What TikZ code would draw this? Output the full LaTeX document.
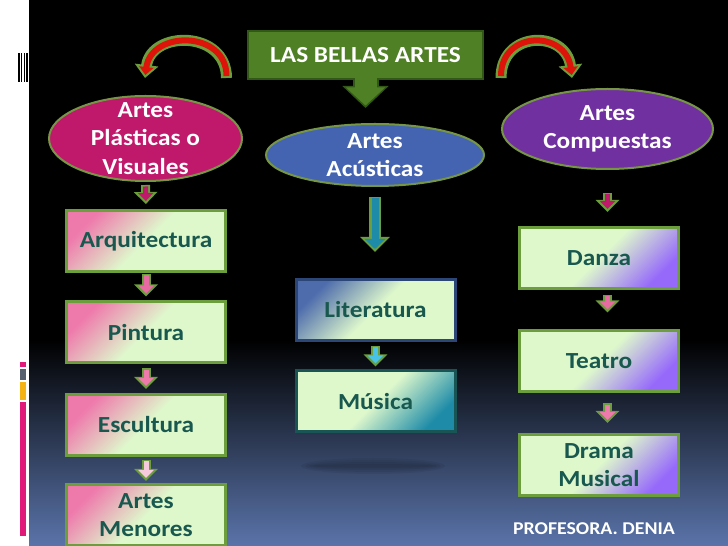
\documentclass[tikz,border=0pt]{standalone}
\usepackage{fontspec}
\setmainfont{Carlito}[FakeStretch=1.1]
\usetikzlibrary{shapes.geometric,arrows.meta}

\definecolor{fondoazul}{RGB}{90,116,170}
\definecolor{verdeborde}{RGB}{108,158,62}
\definecolor{verdeoliva}{RGB}{118,150,70}
\definecolor{verdetitulo}{RGB}{80,128,38}
\definecolor{verdeoscuro}{RGB}{50,88,22}
\definecolor{verdeclaro}{RGB}{222,248,204}
\definecolor{rosa}{RGB}{238,122,172}
\definecolor{ellrosa}{RGB}{192,24,106}
\definecolor{ellazul}{RGB}{68,100,178}
\definecolor{ellmorado}{RGB}{112,48,160}
\definecolor{textocaja}{RGB}{24,88,78}
\definecolor{lila}{RGB}{150,105,250}
\definecolor{azulcaja}{RGB}{78,108,172}
\definecolor{bordeazul}{RGB}{45,70,120}
\definecolor{turquesa}{RGB}{30,140,168}
\definecolor{celeste}{RGB}{70,195,230}
\definecolor{bordeturq}{RGB}{25,85,85}
\definecolor{rojo}{RGB}{222,20,10}
\definecolor{barrarosa}{RGB}{225,25,120}
\definecolor{barragris}{RGB}{85,95,110}
\definecolor{barranaranja}{RGB}{245,180,20}

\tikzset{
  elipse/.style={ellipse, draw=verdeoliva, line width=2pt},
  textoel/.style={text=white, font=\bfseries\fontsize{23}{28.5}\selectfont, align=center},
  caja/.style={rectangle, draw=verdeborde, line width=3pt, minimum width=159pt,
    minimum height=61pt, text=textocaja, align=center,
    font=\bfseries\fontsize{23}{28.5}\selectfont},
  cajarosa/.style={caja, top color=rosa, bottom color=verdeclaro, middle color=verdeclaro, shading angle=45},
  cajalila/.style={caja, top color=verdeclaro, bottom color=lila, middle color=verdeclaro, shading angle=45},
  flechaborde/.style={draw=verdeborde, line width=9pt, -{Triangle[width=23pt,length=12pt]}},
  flechacolor/.style={draw=#1, line width=5pt, -{Triangle[width=15pt,length=8pt]}},
  curvaborde/.style={draw=verdeborde, line width=11pt, -{Triangle[width=23pt,length=13pt]}},
  curvaroja/.style={draw=rojo, line width=6pt, shorten <=2pt, shorten >=3pt, -{Triangle[width=14pt,length=8pt]}},
}

\newcommand\flechita[5]{%
  \draw[flechaborde, shorten <=#4, shorten >=#5] (#1) -- (#2);
  \draw[flechacolor=#3, shorten <=#4+1.5pt, shorten >=#5+3pt] (#1) -- (#2);}

\begin{document}
\begin{tikzpicture}[x=1pt, y=1pt]

  %% fondo
  \useasboundingbox (0,0) rectangle (728,546);
  \fill[white] (0,0) rectangle (728,546);
  \fill[black] (29,206) rectangle (728,546);
  \shade[top color=black, bottom color=fondoazul] (29,0) rectangle (728,206.5);

  %% barras de la izquierda
  \foreach \a/\b in {17.5/19.5, 20.5/22, 23.5/24.5, 26/28}
    \fill[black] (\a,464) rectangle (\b,493);
  \fill[barrarosa] (20,179) rectangle (26,184);
  \fill[barragris] (20,166) rectangle (26,177);
  \fill[barranaranja] (20,146) rectangle (26,164);
  \fill[barrarosa] (20,10) rectangle (26,144);

  %% titulo
  \node[rectangle, fill=verdetitulo, draw=verdeoscuro, line width=2pt, minimum width=235pt,
    minimum height=48pt, text=white, font=\bfseries\fontsize{23}{28}\selectfont]
    (titulo) at (365.5,491) {LAS BELLAS ARTES};

  %% elipses
  \node[elipse, fill=ellrosa, minimum width=193pt, minimum height=85pt] (ellA) at (145.5,407.5) {};
  \node[elipse, fill=ellazul, minimum width=218pt, minimum height=62pt] (ellB) at (375,391) {};
  \node[elipse, fill=ellmorado, minimum width=211pt, minimum height=80pt] (ellC) at (607.5,417) {};
  \node[textoel] (ellAt) at (ellA) {Artes\\Plásticas o\\Visuales};
  \node[textoel] (ellBt) at (ellB) {Artes\\Acústicas};
  \node[textoel] (ellCt) at (ellC) {Artes\\Compuestas};

  %% flecha del titulo
  \draw[draw=verdeoscuro, line width=26pt, -{Triangle[width=45pt,length=22pt]}, shorten >=15pt]
    (titulo.south) -- (titulo.south |- ellB.north);
  \draw[draw=verdetitulo, line width=22pt, -{Triangle[width=38pt,length=18pt]}, shorten >=17.5pt]
    ([yshift=2pt]titulo.south) -- (titulo.south |- ellB.north);

  %% flechas curvas
  \coordinate (curvaIa) at (226.5,468);
  \coordinate (curvaIb) at (145,468);
  \coordinate (curvaDa) at (501,468);
  \coordinate (curvaDb) at (572,468);
  \draw[curvaborde] (curvaIa) .. controls +(0,48) and +(6,48) .. (curvaIb);
  \draw[curvaroja] (curvaIa) .. controls +(0,48) and +(6,48) .. (curvaIb);
  \draw[curvaborde] (curvaDa) .. controls +(0,48) and +(-6,48) .. (curvaDb);
  \draw[curvaroja] (curvaDa) .. controls +(0,48) and +(-6,48) .. (curvaDb);

  %% columna izquierda
  \node[cajarosa] (arq) at (146,305) {Arquitectura};
  \node[cajarosa] (pin) at (146,213.5) {Pintura};
  \node[cajarosa] (esc) at (146,121) {Escultura};
  \node[cajarosa] (men) at (146,31) {Artes\\Menores};

  %% columna central
  \node[caja, draw=bordeazul, top color=azulcaja, bottom color=verdeclaro, middle color=verdeclaro,
    shading angle=45] (lit) at (375.5,236) {Literatura};
  \node[caja, draw=bordeturq, top color=verdeclaro, bottom color=turquesa, middle color=verdeclaro,
    shading angle=45] (mus) at (375.5,144.5) {Música};
  \foreach \r in {0,...,3}
    \fill[black, opacity=0.06] (373,80) ellipse [x radius=60+4*\r, y radius=2+2*\r];

  %% columna derecha
  \node[cajalila] (danza) at (599,288) {Danza};
  \node[cajalila] (teatro) at (599,184.5) {Teatro};
  \node[cajalila] (drama) at (599,81) {Drama\\Musical};

  %% flechas
  \flechita{ellA.south}{arq.north}{ellrosa}{3pt}{5pt}
  \flechita{arq.south}{pin.north}{rosa!85!ellrosa}{1pt}{4pt}
  \flechita{pin.south}{esc.north}{rosa}{4pt}{4pt}
  \flechita{esc.south}{men.north}{rosa!40!white}{3pt}{2pt}
  \flechita{lit.south}{mus.north}{celeste}{4pt}{3pt}
  \flechita{ellC.south}{ellC.south |- danza.north}{ellrosa}{23pt}{14pt}
  \flechita{danza.south -| ellC.south}{teatro.north -| ellC.south}{rosa!85!ellrosa}{5pt}{17pt}
  \flechita{teatro.south -| ellC.south}{drama.north -| ellC.south}{rosa}{10pt}{10pt}
  \draw[draw=verdeborde, line width=12pt, -{Triangle[width=29pt,length=15pt]},
    shorten <=10pt, shorten >=26pt] (ellB.south) -- (ellB.south |- lit.north);
  \draw[draw=turquesa, line width=7pt, -{Triangle[width=20pt,length=10pt]},
    shorten <=11.5pt, shorten >=29pt] (ellB.south) -- (ellB.south |- lit.north);

  %% firma
  \node[text=white, font=\bfseries\fontsize{18}{20}\selectfont] (firma) at (594,17) {PROFESORA. DENIA};

\end{tikzpicture}
\end{document}
